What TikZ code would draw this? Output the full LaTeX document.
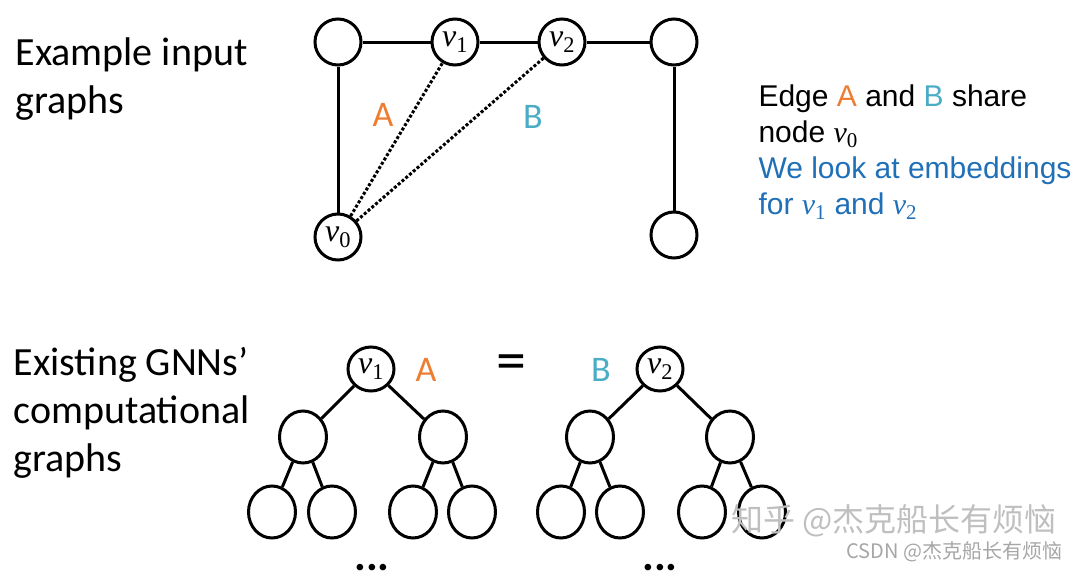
\documentclass[tikz,border=0pt]{standalone}
\usepackage{fontspec}
\setmainfont{Carlito}
\newfontfamily\arialf{Liberation Sans}
\newfontfamily\serf{Liberation Serif}
\newfontfamily\cjk{Noto Sans CJK SC}
\newcommand\vsub[1]{{\serf\itshape v}\textsubscript{\serf #1}}
\usetikzlibrary{shapes.geometric}
\definecolor{orA}{HTML}{ED7D31}
\definecolor{tlB}{HTML}{4BACC6}
\definecolor{blT}{HTML}{2070B8}
\begin{document}
\begin{tikzpicture}[x=1pt,y=-1pt,
  nd/.style={draw,line width=3pt,circle,minimum size=46pt,inner sep=0pt,font=\fontsize{32}{32}\selectfont},
  tn/.style={draw,line width=3pt,ellipse,minimum width=47pt,minimum height=52pt,inner sep=0pt},
  rn/.style={draw,line width=3pt,ellipse,minimum width=46pt,minimum height=44pt,inner sep=0pt,font=\fontsize{32}{32}\selectfont},
  ed/.style={line width=3pt},
  dt/.style={line width=3pt,dotted},
  lab/.style={font=\fontsize{36}{36}\selectfont},
  lt/.style={font=\fontsize{40}{48}\selectfont,anchor=west,align=left},
  rt/.style={font=\arialf\fontsize{30}{36}\selectfont,anchor=west,align=left}]
\useasboundingbox (0,0) rectangle (1080,573);
% top graph
\node[nd] (tl) at (338,42) {};
\node[nd] (v1) at (455,42) {\vsub{1}};
\node[nd] (v2) at (562,42) {\vsub{2}};
\node[nd] (tr) at (674,42) {};
\node[nd] (v0) at (338,237) {\vsub{0}};
\node[nd] (br) at (674,235) {};
\draw[ed] (tl)--(v1) (v1)--(v2) (v2)--(tr) (tl)--(v0) (tr)--(br);
\draw[dt] (v0)--(v1) (v0)--(v2);
\node[lab,text=orA] (la) at (383,115) {A};
\node[lab,text=tlB] (lb) at (533,117) {B};
\node[lt] (t1) at (12,79) {Example input\\graphs};
\node[rt] (t2) at (755,152) {Edge \textcolor{orA}{A} and \textcolor{tlB}{B} share\\node \vsub{0}\\\textcolor{blT}{We look at embeddings}\\\textcolor{blT}{for \vsub{1} and \vsub{2}}};
% bottom
\node[lt] (t3) at (10,413) {Existing GNNs'\\computational\\graphs};
\node[rn] (r1) at (371,369) {\vsub{1}};
\node[tn] (a1) at (303,437) {};
\node[tn] (a2) at (443,437) {};
\node[tn] (b1) at (272,512) {};
\node[tn] (b2) at (332,512) {};
\node[tn] (b3) at (413,512) {};
\node[tn] (b4) at (472,512) {};
\draw[ed] (r1)--(a1) (r1)--(a2) (a1)--(b1) (a1)--(b2) (a2)--(b3) (a2)--(b4);
\node[rn] (r2) at (660,369) {\vsub{2}};
\node[tn] (c1) at (590,437) {};
\node[tn] (c2) at (730,437) {};
\node[tn] (d1) at (561,512) {};
\node[tn] (d2) at (620,512) {};
\node[tn] (d3) at (702,512) {};
\node[tn] (d4) at (762,512) {};
\draw[ed] (r2)--(c1) (r2)--(c2) (c1)--(d1) (c1)--(d2) (c2)--(d3) (c2)--(d4);
\node[lab,text=orA] (la2) at (426,370) {A};
\node[font=\fontsize{60}{60}\selectfont] (eq) at (511,368) {=};
\node[lab,text=tlB] (lb2) at (601,370) {B};
\node[font=\fontsize{44}{44}\selectfont\bfseries] (dd1) at (372,568) {...};
\node[font=\fontsize{44}{44}\selectfont\bfseries] (dd2) at (660,568) {...};
\node[text=black!25,font=\cjk\fontsize{32}{32}\selectfont,anchor=west] (w1) at (728,521) {知乎 @杰克船长有烦恼};
\node[text=black!35,font=\cjk\fontsize{20}{20}\selectfont,anchor=east] (w2) at (1066,552) {CSDN @杰克船长有烦恼};
\end{tikzpicture}
\end{document}
